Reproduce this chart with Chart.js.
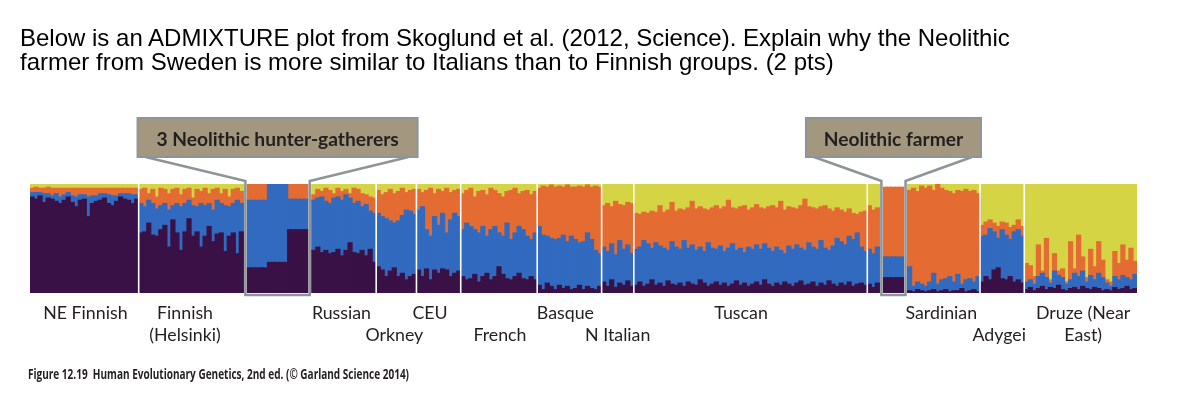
<!DOCTYPE html>
<html>
<head>
<meta charset="utf-8">
<script src="https://cdn.jsdelivr.net/npm/chart.js@4.4.1/dist/chart.umd.min.js"></script>
<style>
  body { margin: 0; background: #fff; }
  #wrap { position: relative; width: 1188px; height: 396px; overflow: hidden; }
  #admix { position: absolute; left: 0; top: 0; }
  #question { position: absolute; left: 20px; top: 25.5px; font: 24px/24px "Liberation Sans", Arial, sans-serif; color: #000; white-space: nowrap; }
</style>
</head>
<body>
<div id="wrap">
  <canvas id="admix" width="1188" height="396"></canvas>
  <div id="question">Below is an ADMIXTURE plot from Skoglund et al. (2012, Science). Explain why the Neolithic<br>farmer from Sweden is more similar to Italians than to Finnish groups. (2 pts)</div>
</div>
<script>
// ancestry proportions (%) per individual, bottom to top: purple, blue, orange, yellow
const neFinnishPurple = [88,86,89,83,87,86,84,82,85,88,83,79,85,86,70,82,84,85,87,82,80,84,88,86,85,82,86];
const neFinnishBlue   = [4,6,3,8,4,3,7,6,5,4,6,9,5,4,18,7,5,6,4,8,9,5,3,5,6,8,4];
const neFinnishOrange = [4,5,4,5,6,7,5,8,6,4,7,8,6,6,8,7,7,5,5,6,7,7,5,5,5,6,6];
const neFinnishYellow = [4,3,4,4,3,4,4,4,4,4,4,4,4,4,4,4,4,4,4,4,4,4,4,4,4,4,4];

const finnishPurple = [55,56,64,53,52,58,62,42,67,55,39,56,68,52,56,42,52,61,47,54,55,38,52,55,36,56];
const finnishBlue   = [27,23,21,29,25,22,20,34,13,27,40,26,17,28,23,40,28,21,29,31,27,42,27,27,49,26];
const finnishOrange = [13,17,6,13,11,16,13,15,15,14,11,13,11,7,16,11,16,9,19,11,9,15,9,13,11,11];
const finnishYellow = [5,4,9,5,12,4,5,9,5,4,10,5,4,13,5,7,4,9,5,4,9,5,12,5,4,7];

const hunterPurple = [23,28,58];
const hunterBlue   = [62,72,28];
const hunterOrange = [15,0,14];
const hunterYellow = [0,0,0];

const russianPurple = [39,42,37,39,36,37,40,34,39,46,37,36,39,34,40,28];
const russianBlue   = [46,45,51,45,46,50,48,51,51,41,45,48,40,47,35,45];
const russianOrange = [5,8,5,12,12,4,8,8,5,4,14,11,12,9,13,14];
const russianYellow = [10,5,7,4,6,9,4,7,5,9,4,5,9,10,12,13];

const orkneyPurple = [24,21,15,20,23,15,18,12,15,17];
const orkneyBlue   = [49,49,53,46,41,51,53,64,60,55];
const orkneyOrange = [21,20,24,29,27,27,25,16,19,23];
const orkneyYellow = [6,10,8,5,9,7,4,8,6,5];

const ceuPurple = [21,15,22,12,21,18,22,21,15,18,20];
const ceuBlue   = [55,64,36,40,49,44,51,34,52,55,50];
const ceuOrange = [19,13,36,44,21,33,20,41,25,21,25];
const ceuYellow = [5,8,6,4,9,5,7,4,8,6,5];

const frenchPurple = [15,12,13,17,10,15,18,12,15,24,17,13,12,15,18,13,12,15,12];
const frenchBlue   = [43,52,48,41,45,46,34,46,46,31,35,51,37,40,43,45,40,34,43];
const frenchOrange = [33,30,35,30,38,33,38,38,33,36,36,29,45,41,30,35,42,41,38];
const frenchYellow = [9,6,4,12,7,6,10,4,6,9,12,7,6,4,9,7,6,10,7];

const basquePurple = [7,3,9,6,3,7,4,6,3,4,7,3,6,4,3,6];
const basqueBlue   = [54,50,43,44,46,43,49,41,49,45,39,44,49,45,36,30];
const basqueOrange = [35,45,45,49,48,48,44,52,45,48,52,50,44,48,59,61];
const basqueYellow = [4,2,3,1,3,2,3,1,3,3,2,3,1,3,2,3];

const nItalianPurple = [10,6,12,5,9,7,11,6];
const nItalianBlue   = [32,32,33,30,39,33,33,30];
const nItalianOrange = [38,44,34,49,33,40,39,46];
const nItalianYellow = [20,18,21,16,19,20,17,18];

const tuscanPurple = [7,10,6,8,12,7,9,6,11,8, 7,9,6,10,8,7,12,9,6,8, 10,7,9,6,8,11,7,9,6,8, 10,7,12,8,6,9,7,10,8,6, 9,11,7,8,10,6,9,7,11,8, 6,9,7,10,6,8,9,7];
const tuscanBlue   = [33,32,42,37,29,39,34,35,28,39, 35,31,42,31,36,32,30,29,40,33, 30,36,29,35,37,28,34,28,36,32, 34,33,33,33,32,33,32,26,35,34, 35,30,32,38,32,34,39,34,28,35, 44,38,37,42,43,47,33,31];
const tuscanOrange = [33,30,26,28,34,28,37,33,37,36, 33,37,28,37,40,38,37,39,30,37, 40,34,41,44,33,38,38,43,34,38, 37,38,32,38,42,36,45,40,36,38, 33,39,47,33,36,37,31,39,38,32, 28,29,30,25,24,17,32,37];
const tuscanYellow = [27,28,26,27,25,26,20,26,24,17, 25,23,24,22,16,23,21,23,24,22, 20,23,21,15,22,23,21,20,24,22, 19,22,23,21,20,22,16,24,21,22, 23,20,14,21,22,23,21,20,23,25, 22,24,26,23,27,28,26,25];

const italianBPurple = [8,5,9];
const italianBBlue   = [32,31,33];
const italianBOrange = [40,40,36];
const italianBYellow = [20,24,22];

const farmerPurple = [14];
const farmerBlue   = [19];
const farmerOrange = [64];
const farmerYellow = [0];

const sardinianPurple = [2,1,3,2,1,2,3,1,2,3,1,2,2,4,1,2,3,1];
const sardinianBlue   = [22,5,7,6,5,8,15,7,10,10,14,8,15,4,11,11,7,14];
const sardinianOrange = [70,90,83,90,90,88,76,92,84,81,78,81,77,85,83,80,84,76];
const sardinianYellow = [6,4,7,2,4,2,6,0,4,6,7,9,6,7,5,7,6,9];

const adygeiPurple = [10,15,12,21,23,13,12,15,10,12,9];
const adygeiBlue   = [42,38,47,35,27,45,41,34,46,46,43];
const adygeiOrange = [10,12,8,8,11,7,11,11,6,9,9];
const adygeiYellow = [38,35,33,36,39,35,36,40,38,33,39];

const druzePurple = [3,5,2,4,6,3,5,4,7,3,2,4,5,3,6,4,3,5,4,2,3,2,5,3,4,6,3,4];
const druzeBlue   = [7,7,6,11,12,11,4,16,9,11,6,8,13,12,14,6,13,7,14,12,6,4,10,9,12,8,9,13];
const druzeOrange = [17,13,7,29,2,36,3,16,4,8,2,35,4,38,13,4,24,12,29,16,3,4,23,15,28,16,29,12];
const druzeYellow = [73,75,85,56,80,50,88,64,80,78,90,53,78,47,67,86,60,76,53,70,88,90,62,73,56,70,59,71];

// label text under each group: [first row, second row]
const groupLabels = [
  ["NE Finnish", ""], ["Finnish", "(Helsinki)"], ["", ""], ["Russian", ""], ["", "Orkney"],
  ["CEU", ""], ["", "French"], ["Basque", ""], ["", "N Italian"], ["Tuscan", ""],
  ["", ""], ["", ""], ["Sardinian", ""], ["", "Adygei"], ["Druze (Near", "East)"]
];

const groups = [
  { purple: neFinnishPurple, blue: neFinnishBlue, orange: neFinnishOrange, yellow: neFinnishYellow },
  { purple: finnishPurple, blue: finnishBlue, orange: finnishOrange, yellow: finnishYellow },
  { purple: hunterPurple, blue: hunterBlue, orange: hunterOrange, yellow: hunterYellow, callout: "3 Neolithic hunter-gatherers", boxW: 280 },
  { purple: russianPurple, blue: russianBlue, orange: russianOrange, yellow: russianYellow },
  { purple: orkneyPurple, blue: orkneyBlue, orange: orkneyOrange, yellow: orkneyYellow },
  { purple: ceuPurple, blue: ceuBlue, orange: ceuOrange, yellow: ceuYellow },
  { purple: frenchPurple, blue: frenchBlue, orange: frenchOrange, yellow: frenchYellow },
  { purple: basquePurple, blue: basqueBlue, orange: basqueOrange, yellow: basqueYellow },
  { purple: nItalianPurple, blue: nItalianBlue, orange: nItalianOrange, yellow: nItalianYellow },
  { purple: tuscanPurple, blue: tuscanBlue, orange: tuscanOrange, yellow: tuscanYellow },
  { purple: italianBPurple, blue: italianBBlue, orange: italianBOrange, yellow: italianBYellow },
  { purple: farmerPurple, blue: farmerBlue, orange: farmerOrange, yellow: farmerYellow, callout: "Neolithic farmer", boxW: 175 },
  { purple: sardinianPurple, blue: sardinianBlue, orange: sardinianOrange, yellow: sardinianYellow },
  { purple: adygeiPurple, blue: adygeiBlue, orange: adygeiOrange, yellow: adygeiYellow },
  { purple: druzePurple, blue: druzeBlue, orange: druzeOrange, yellow: druzeYellow }
];

// layout bits
const boxSlots = 5;           // ancient samples are drawn wide
const labelNudge = [1, -6, 0, -2.5, -2, -8.5, 1, -4, 0, -9.5, 0, 0, -2.5, -3, 2.5];
const greyLine = "#8e9499";

// expand into one category per slot
const labels = [], pData = [], bData = [], oData = [], yData = [], spans = [];
groups.forEach(function (g, gi) {
  const start = labels.length;
  const reps = g.callout ? boxSlots : 1;
  const push = function (p, b, o, y) {
    labels.push("g" + gi + "_" + labels.length);
    pData.push(p || null); bData.push(b || null); oData.push(o || null); yData.push(y || null);
  };
  if (g.callout) push(null, null, null, null);
  for (let i = 0; i < g.purple.length; i++) {
    for (let r = 0; r < reps; r++) push(g.purple[i], g.blue[i], g.orange[i], g.yellow[i]);
  }
  if (g.callout) push(null, null, null, null);
  spans.push({ start: start, end: labels.length - 1, callout: g.callout, boxW: g.boxW });
});

const admixDecor = {
  id: "admixDecor",
  afterDatasetsDraw(chart) {
    const ctx = chart.ctx, x = chart.scales.x, area = chart.chartArea;
    const half = (x.getPixelForValue(1) - x.getPixelForValue(0)) / 2;
    ctx.save();

    // white lines between groups
    ctx.strokeStyle = "#ffffff";
    ctx.lineWidth = 1.6;
    for (let i = 1; i < spans.length; i++) {
      if (spans[i].callout || spans[i - 1].callout) continue;
      const px = x.getPixelForValue(spans[i].start) - half;
      ctx.beginPath();
      ctx.moveTo(px, area.top);
      ctx.lineTo(px, area.bottom);
      ctx.stroke();
    }

    // callouts
    spans.forEach(function (s) {
      if (!s.callout) return;
      const lx = x.getPixelForValue(s.start), rx = x.getPixelForValue(s.end);
      const cx = (lx + rx) / 2;
      const bl = cx - s.boxW / 2, br = cx + s.boxW / 2, bt = 118, bb = 157;
      ctx.strokeStyle = greyLine;
      ctx.lineWidth = 2.5;
      ctx.lineJoin = "miter";
      ctx.beginPath();
      ctx.moveTo(bl + 8, bb);
      ctx.lineTo(lx, area.top - 3);
      ctx.lineTo(lx, area.bottom + 2);
      ctx.lineTo(rx, area.bottom + 2);
      ctx.lineTo(rx, area.top - 3);
      ctx.lineTo(br - 9, bb);
      ctx.stroke();
      ctx.fillStyle = "#a3987f";
      ctx.fillRect(bl, bt, br - bl, bb - bt);
      ctx.lineWidth = 2;
      ctx.strokeRect(bl, bt, br - bl, bb - bt);
      ctx.fillStyle = "#231f20";
      ctx.font = "bold 19.2px Lato, 'Open Sans', sans-serif";
      ctx.textAlign = "center";
      ctx.textBaseline = "alphabetic";
      ctx.fillText(s.callout, cx, 146, s.boxW - 30);
    });

    // population labels
    ctx.fillStyle = "#231f20";
    ctx.font = "17.8px Lato, 'Open Sans', sans-serif";
    ctx.textAlign = "center";
    spans.forEach(function (s, i) {
      const cx = (x.getPixelForValue(s.start) + x.getPixelForValue(s.end)) / 2 + labelNudge[i];
      if (groupLabels[i][0]) ctx.fillText(groupLabels[i][0], cx, 319);
      if (groupLabels[i][1]) ctx.fillText(groupLabels[i][1], cx, 341);
    });

    // figure credit
    ctx.textAlign = "left";
    ctx.font = "bold 15px 'Open Sans', sans-serif";
    ctx.fillText("Figure 12.19  Human Evolutionary Genetics, 2nd ed. (\u00A9 Garland Science 2014)", 28, 378.5, 381);
    ctx.restore();
  }
};

new Chart(document.getElementById("admix"), {
  type: "bar",
  data: {
    labels: labels,
    datasets: [
      { label: "K1", data: pData, backgroundColor: "#3a1146" },
      { label: "K2", data: bData, backgroundColor: "#316abf" },
      { label: "K3", data: oData, backgroundColor: "#e46b32" },
      { label: "K4", data: yData, backgroundColor: "#d5d444" }
    ]
  },
  options: {
    responsive: false,
    animation: false,
    devicePixelRatio: 1,
    layout: { padding: { left: 30, right: 51, top: 184, bottom: 103 } },
    datasets: { bar: { barPercentage: 1, categoryPercentage: 1, borderWidth: 0, inflateAmount: 0.6 } },
    plugins: { legend: { display: false }, tooltip: { enabled: false } },
    scales: {
      x: { stacked: true, display: false },
      y: { stacked: true, display: false, min: 0, max: 100 }
    }
  },
  plugins: [admixDecor]
});
</script>
</body>
</html>
